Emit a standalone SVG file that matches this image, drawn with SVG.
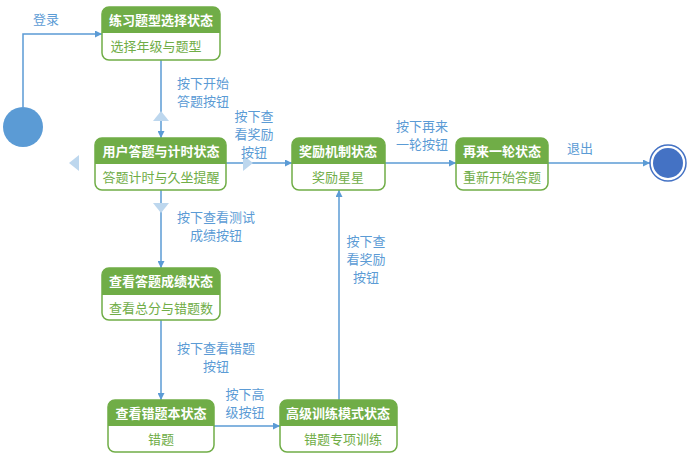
<svg xmlns="http://www.w3.org/2000/svg" width="694" height="463" viewBox="0 0 694 463">
<style>
.box{fill:#fff;stroke:#70ad47;stroke-width:1.5}
.hd{fill:#70ad47}
.ht{font-family:"Noto Sans CJK SC",sans-serif;font-size:13px;font-weight:bold;fill:#fff;text-anchor:middle}
.bt{font-family:"Noto Sans CJK SC",sans-serif;font-size:13px;fill:#70ad47;text-anchor:middle}
.lb{font-family:"Noto Sans CJK SC",sans-serif;font-size:13px;fill:#5b9bd5;text-anchor:middle}
.ln{fill:none;stroke:#5b9bd5;stroke-width:1.5;marker-end:url(#a)}
.tri{fill:#bdd7ee}
</style>
<defs>
<marker id="a" viewBox="0 0 10 10" refX="10" refY="5" markerWidth="7" markerHeight="7" orient="auto" markerUnits="userSpaceOnUse"><path d="M0,0L10,5L0,10z" fill="#5b9bd5"/></marker>
</defs>
<rect width="694" height="463" fill="#fff"/>
<g id="connectors">
<path class="ln" d="M23,107V34H102"/>
<path class="ln" d="M161,60V138"/>
<path class="ln" d="M226,163H292"/>
<path class="ln" d="M385,163H456"/>
<path class="ln" d="M548,163H650"/>
<path class="ln" d="M161,190V268"/>
<path class="ln" d="M161,320V400"/>
<path class="ln" d="M214,426H280"/>
<path class="ln" d="M339,400V190"/>
<path class="tri" d="M161,111L169,121H153z"/>
<path class="tri" d="M161,213L169,203H153z"/>
<path class="tri" d="M69,163L79,155V171z"/>
<path class="tri" d="M253,163L243,155V171z"/>
<text class="lb" x="46" y="24">登录</text>
<text class="lb" x="203" y="88">按下开始</text>
<text class="lb" x="203" y="106">答题按钮</text>
<text class="lb" x="254" y="121">按下查</text>
<text class="lb" x="254" y="139">看奖励</text>
<text class="lb" x="254" y="157">按钮</text>
<text class="lb" x="422" y="131">按下再来</text>
<text class="lb" x="422" y="149">一轮按钮</text>
<text class="lb" x="580" y="153">退出</text>
<text class="lb" x="216" y="222">按下查看测试</text>
<text class="lb" x="216" y="240">成绩按钮</text>
<text class="lb" x="216" y="353">按下查看错题</text>
<text class="lb" x="216" y="371">按钮</text>
<text class="lb" x="245" y="399">按下高</text>
<text class="lb" x="245" y="417">级按钮</text>
<text class="lb" x="366" y="246">按下查</text>
<text class="lb" x="366" y="264">看奖励</text>
<text class="lb" x="366" y="282">按钮</text>
</g>
<g id="start"><circle cx="23" cy="127" r="20" fill="#5b9bd5"/></g>
<g id="end"><circle cx="668" cy="163" r="18" fill="#fff" stroke="#4472c4" stroke-width="1.5"/><circle cx="668" cy="163" r="15" fill="#4472c4"/></g>
<g id="n1"><rect class="box" x="102" y="7" width="118" height="53" rx="7"/><path class="hd" d="M102,33V14a7,7 0 0 1 7-7H213a7,7 0 0 1 7,7V33z"/><text class="ht" x="161" y="25">练习题型选择状态</text><text class="bt" x="156" y="51">选择年级与题型</text></g>
<g id="n2"><rect class="box" x="95" y="138" width="131" height="52" rx="7"/><path class="hd" d="M95,164V145a7,7 0 0 1 7-7H219a7,7 0 0 1 7,7V164z"/><text class="ht" x="161" y="156">用户答题与计时状态</text><text class="bt" x="161" y="182">答题计时与久坐提醒</text></g>
<g id="n3"><rect class="box" x="292" y="138" width="93" height="52" rx="7"/><path class="hd" d="M292,164V145a7,7 0 0 1 7-7H378a7,7 0 0 1 7,7V164z"/><text class="ht" x="338" y="156">奖励机制状态</text><text class="bt" x="338" y="182">奖励星星</text></g>
<g id="n4"><rect class="box" x="456" y="138" width="92" height="52" rx="7"/><path class="hd" d="M456,164V145a7,7 0 0 1 7-7H541a7,7 0 0 1 7,7V164z"/><text class="ht" x="502" y="156">再来一轮状态</text><text class="bt" x="502" y="182">重新开始答题</text></g>
<g id="n5"><rect class="box" x="102" y="268" width="118" height="52" rx="7"/><path class="hd" d="M102,295V275a7,7 0 0 1 7-7H213a7,7 0 0 1 7,7V295z"/><text class="ht" x="161" y="286">查看答题成绩状态</text><text class="bt" x="161" y="313">查看总分与错题数</text></g>
<g id="n6"><rect class="box" x="108" y="400" width="106" height="52" rx="7"/><path class="hd" d="M108,426V407a7,7 0 0 1 7-7H207a7,7 0 0 1 7,7V426z"/><text class="ht" x="161" y="418">查看错题本状态</text><text class="bt" x="161" y="444">错题</text></g>
<g id="n7"><rect class="box" x="280" y="400" width="117" height="52" rx="7"/><path class="hd" d="M280,426V407a7,7 0 0 1 7-7H390a7,7 0 0 1 7,7V426z"/><text class="ht" x="338" y="418">高级训练模式状态</text><text class="bt" x="343" y="444">错题专项训练</text></g>
</svg>
